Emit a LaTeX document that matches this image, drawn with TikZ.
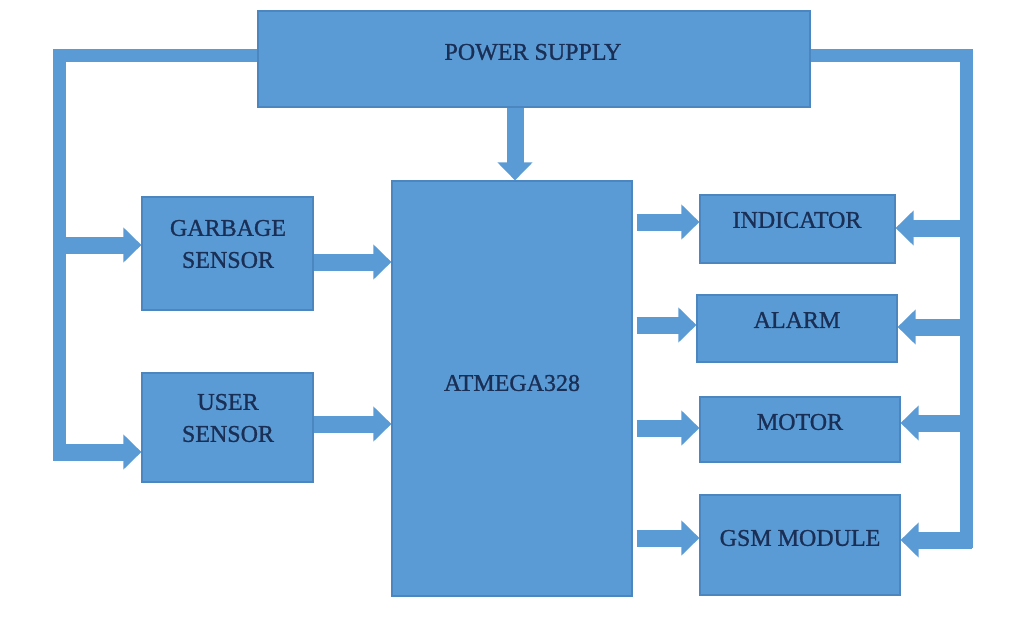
\documentclass[tikz,border=0pt]{standalone}
\usepackage{fontspec}
\setmainfont{Liberation Serif}
\newfontfamily\lblfont[FakeBold=1]{Liberation Serif}
\usetikzlibrary{arrows.meta,calc}
\definecolor{boxblue}{HTML}{5B9BD5}
\definecolor{edgeblue}{HTML}{4B86C0}
\definecolor{txtblue}{HTML}{1A2F55}
\begin{document}
\begin{tikzpicture}[x=1pt,y=-1pt,
  blk/.style={draw=edgeblue, line width=1.2pt, fill=boxblue, inner sep=0pt, rectangle},
  lbl/.style={text=txtblue, font=\lblfont\fontsize{24}{32}\selectfont, align=center, inner sep=0pt},
  arr/.style={draw=boxblue, line width=17pt, -{Triangle[width=34pt,length=18pt]}},
  bus/.style={draw=boxblue, line width=13pt}]
\useasboundingbox (0,0) rectangle (1014,626);

% boxes
\node[blk, minimum width=552pt, minimum height=96pt] (ps) at (534,59) {};
\node[blk, minimum width=171pt, minimum height=113pt] (gs) at (227.5,253.5) {};
\node[blk, minimum width=171pt, minimum height=109pt] (us) at (227.5,427.5) {};
\node[blk, minimum width=240pt, minimum height=415pt] (at) at (512,388.5) {};
\node[blk, minimum width=195pt, minimum height=68pt] (ind) at (797.5,229) {};
\node[blk, minimum width=200pt, minimum height=67pt] (al) at (797,328.5) {};
\node[blk, minimum width=200pt, minimum height=65pt] (mo) at (800,429.5) {};
\node[blk, minimum width=200pt, minimum height=100pt] (gsm) at (800,545) {};

% labels
\node[lbl] (tps) at (533,52) {POWER SUPPLY};
\node[lbl] (tgs) at (228,244) {GARBAGE\\SENSOR};
\node[lbl] (tus) at (228,418) {USER\\SENSOR};
\node[lbl] (tat) at (512,383) {ATMEGA328};
\node[lbl] (tind) at (797,220) {INDICATOR};
\node[lbl] (tal) at (797,320) {ALARM};
\node[lbl] (tmo) at (800,422) {MOTOR};
\node[lbl] (tgsm) at (800,538) {GSM MODULE};

% bus corner coordinates
\coordinate (lt) at (59.5,56);
\coordinate (lb) at (59.5,452);
\coordinate (ls) at (53,452);
\coordinate (lg) at (57,245);
\coordinate (rt) at (966,56);
\coordinate (rb) at (966,548);
\coordinate (xp) at (515,0);

% left bus
\draw[bus] (ps.west |- lt) -- (lt) -- (lb);
\draw[arr] (ls) -- (ls -| us.west);
\draw[arr] (lg) -- (lg -| gs.west);

% right bus
\draw[bus] (ps.east |- rt) -- (rt) -- (rb);
\coordinate (ri) at (972,228);
\coordinate (ra) at (972,327);
\coordinate (rm) at (972,423);
\coordinate (rg) at (972,540);
\draw[arr] (ri) -- (ri -| ind.east);
\draw[arr] (ra) -- (ra -| al.east);
\draw[arr] (rm) -- (rm -| mo.east);
\draw[arr] (rg) -- (rg -| gsm.east);

% power to controller
\draw[arr] (ps.south -| xp) -- (at.north -| xp);

% sensors to controller
\coordinate (yg) at (0,262);
\coordinate (yu) at (0,424);
\draw[arr] (gs.east |- yg) -- (at.west |- yg);
\draw[arr] (us.east |- yu) -- (at.west |- yu);

% controller to outputs
\coordinate (yi) at (0,222);
\coordinate (ya) at (0,325);
\coordinate (ym) at (0,428);
\coordinate (yq) at (0,538);
\draw[arr, shorten <=4pt] (at.east |- yi) -- (ind.west |- yi);
\draw[arr, shorten <=4pt] (at.east |- ya) -- (al.west |- ya);
\draw[arr, shorten <=4pt] (at.east |- ym) -- (mo.west |- ym);
\draw[arr, shorten <=4pt] (at.east |- yq) -- (gsm.west |- yq);
\end{tikzpicture}
\end{document}
